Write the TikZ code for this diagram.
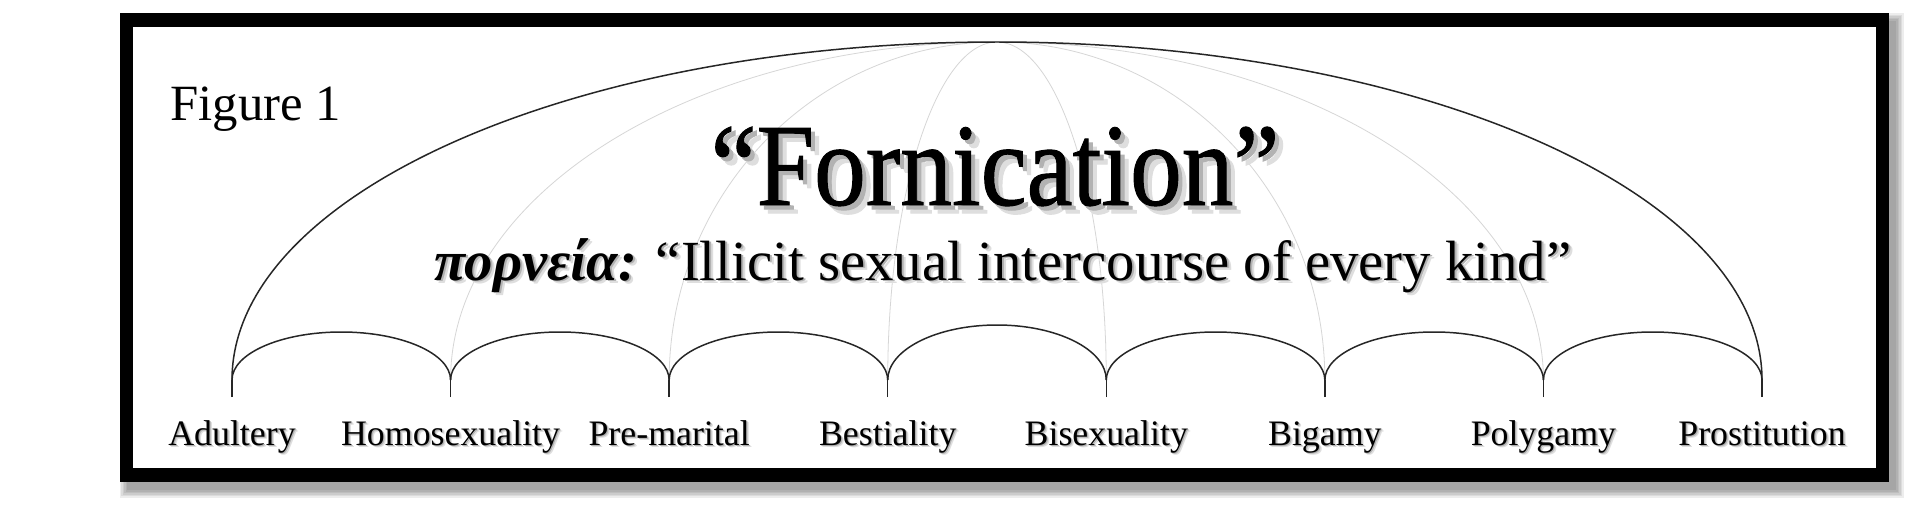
\documentclass[tikz,border=0pt]{standalone}
\usepackage{fontspec}
\usepackage{xcolor}
\setmainfont{Liberation Serif}
\newfontfamily\narrowserif[FakeStretch=0.88,FakeBold=0.8]{Liberation Serif}
\usetikzlibrary{calc}
\newcommand\shadowed[1]{\leavevmode\rlap{\kern0.07em\raisebox{-0.07em}{\textcolor{black!13}{#1}}}\rlap{\kern0.035em\raisebox{-0.035em}{\textcolor{black!30}{#1}}}#1}

\begin{document}
\begin{tikzpicture}[x=0.02cm, y=0.02cm,
  arch/.style={line width=0.85pt, black!85},
  rib/.style={line width=0.45pt, black!16},
  word/.style={inner sep=0pt, anchor=base}]
\useasboundingbox (0,0) rectangle (1920,515);
\foreach \k in {0,...,5}{
	\fill[black, opacity=.07] ({127-1.5*\k},{25-1.5*\k}) rectangle ({1896+1.5*\k},{494+1.5*\k});
	}
\fill[white] (126.5,40) rectangle (1882.5,495);
\draw[line width=7.65pt, black] (126.5,40) rectangle (1882.5,495);
\foreach \name [count=\i from 0] in {Adultery,Homosexuality,Pre-marital,Bestiality,Bisexuality,Bigamy,Polygamy,Prostitution}{
	\coordinate (cusp\i) at ({232+218.57*\i},135);
	\coordinate (foot\i) at ({232+218.57*\i},118);
	\node[word, font=\fontsize{20.4}{24}\selectfont] (cat\i) at ({232+218.57*\i},70) {\shadowed{\name}};
	}
\foreach \i/\a in {1/180,2/180,3/180,4/0,5/0,6/0}{
	\draw[rib] (cusp\i) arc[start angle=\a, end angle=90, x radius={abs(232+218.57*\i-997)}, y radius=338];
	}
\draw[arch] (cusp0) arc[start angle=180, end angle=0, x radius=765, y radius=338];
\foreach \i/\h in {0/48,1/48,2/48,3/55,4/48,5/48,6/48}{
	\draw[arch] (cusp\i) arc[start angle=180, end angle=0, x radius=109.285, y radius=\h];
	}
\foreach \i in {0,...,7}{
	\draw[arch] (foot\i) -- (cusp\i);
	}
\node[word, anchor=base west, font=\fontsize{28.9}{34}\selectfont] (figno) at (170,395) {Figure 1};
\node[word, font=\narrowserif\fontsize{66.9}{80}\selectfont] (title) at (995,310) {\shadowed{“Fornication”}};
\node[word, font=\fontsize{32.3}{38}\selectfont] (gloss) at (1003,235) {\shadowed{{\bfseries\itshape πορνεία:} “Illicit sexual intercourse of every kind”}};
\end{tikzpicture}
\end{document}
